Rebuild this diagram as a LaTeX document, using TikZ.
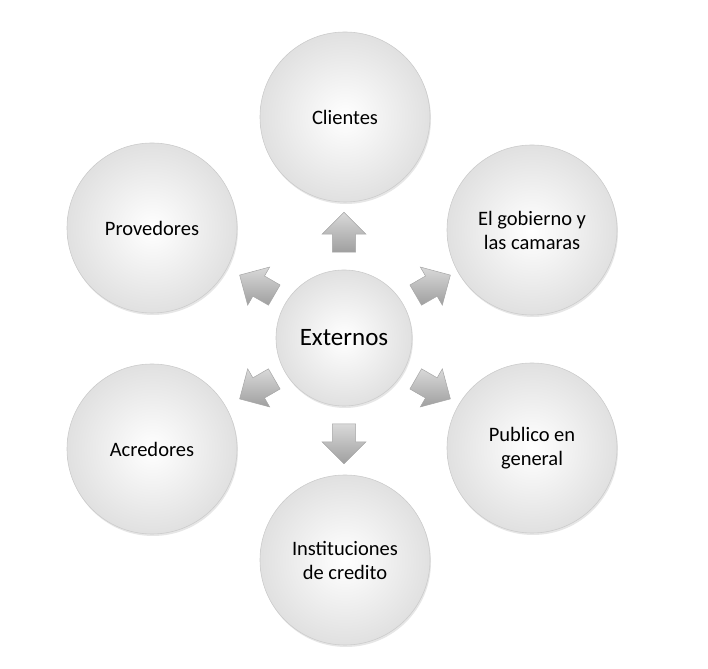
\documentclass[tikz,border=0pt]{standalone}
\usepackage{fontspec}
\setmainfont{Carlito}
\usetikzlibrary{shapes.arrows,shadows}
\begin{document}
\begin{tikzpicture}[x=1pt,y=1pt,
  bub/.style={circle,draw=gray!40,line width=0.6pt,minimum size=170pt,inner sep=0pt,align=center,
    inner color=white,outer color=gray!24,font=\fontsize{20.5}{24}\selectfont,
    drop shadow={shadow xshift=1pt,shadow yshift=-2pt,opacity=0.2}},
  cen/.style={bub,minimum size=136pt,font=\fontsize{25}{29}\selectfont},
  arr/.style={single arrow,draw=gray!70,line width=0.5pt,minimum height=40pt,minimum width=44pt,
    single arrow head extend=10pt,inner sep=11pt,shading=axis,top color=gray!30,bottom color=gray!75}]
\useasboundingbox (0,0) rectangle (708,668);
\node[cen] (c) at (344,330) {Externos};
\node[bub] (cl) at (345,551) {Clientes};
\node[bub] (go) at (532,438) {El gobierno  y\\las camaras};
\node[bub] (pu) at (532,220) {Publico en\\general};
\node[bub] (in) at (345,108) {Instituciones\\de credito};
\node[bub] (ac) at (152,219) {Acredores};
\node[bub] (pr) at (152,440) {Provedores};
\node[arr,rotate=90] (a1) at (344,430) {};
\node[arr,rotate=30] (a2) at (428,380) {};
\node[arr,rotate=-30] (a3) at (428,282) {};
\node[arr,rotate=-90] (a4) at (344,230) {};
\node[arr,rotate=210] (a5) at (262,282) {};
\node[arr,rotate=150] (a6) at (262,380) {};
\end{tikzpicture}
\end{document}
